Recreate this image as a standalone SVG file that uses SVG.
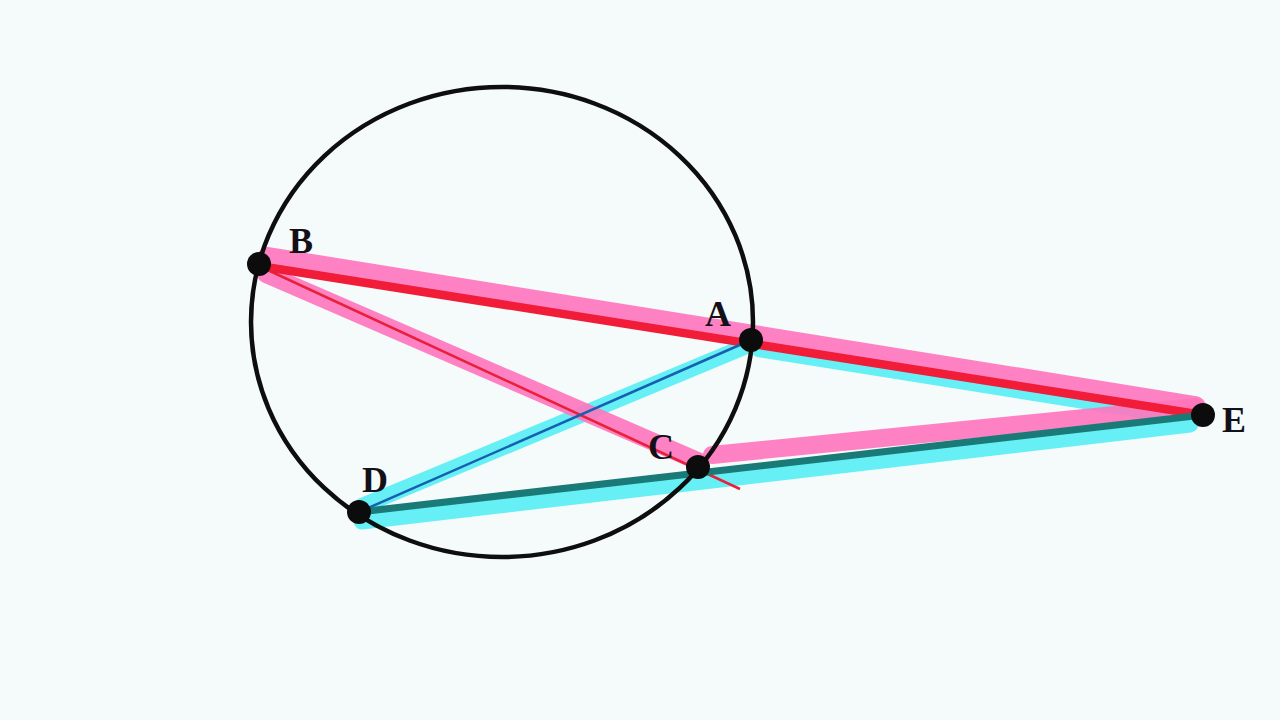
<svg xmlns="http://www.w3.org/2000/svg" width="1280" height="720" viewBox="0 0 1280 720">
<style>
.pink{stroke:#ff74bc;stroke-linecap:round;fill:none;opacity:0.9}
.cyan{stroke:#66eff5;stroke-linecap:round;fill:none}
.lbl{font-family:"Liberation Serif","DejaVu Serif",serif;font-weight:bold;font-size:36px;fill:#141018}
.dot{fill:#0c0c0c}
</style>
<rect width="1280" height="720" fill="#f4fbfa"/>
<g id="connectors">
<line class="cyan" x1="362" y1="506" x2="744" y2="347" stroke-width="16"/>
<line class="cyan" x1="758" y1="350" x2="1160" y2="414" stroke-width="14"/>
<line class="cyan" x1="362" y1="521" x2="1190" y2="424" stroke-width="17"/>
<line class="pink" x1="268" y1="258" x2="1195" y2="407" stroke-width="22"/>
<line class="pink" x1="266" y1="274" x2="700" y2="462" stroke-width="18"/>
<line class="pink" x1="712" y1="455" x2="1195" y2="407" stroke-width="18"/>
<line x1="259" y1="266" x2="1203" y2="415" stroke="#f01c38" stroke-width="8.5"/>
<line x1="259" y1="266" x2="740" y2="489" stroke="#e8203a" stroke-width="2.5"/>
<line x1="359" y1="512" x2="751" y2="340" stroke="#1560b0" stroke-width="2.5"/>
<line x1="359" y1="512" x2="1203" y2="415" stroke="#1a7a78" stroke-width="7"/>
</g>
<g id="circle">
<ellipse cx="502" cy="322" rx="251" ry="235" fill="none" stroke="#0e0e0e" stroke-width="4.5"/>
</g>
<g id="node-B"><circle class="dot" cx="259" cy="264" r="12"/><text class="lbl" x="289" y="253">B</text></g>
<g id="node-A"><circle class="dot" cx="751" cy="340" r="12"/><text class="lbl" x="705" y="326">A</text></g>
<g id="node-C"><circle class="dot" cx="698" cy="467" r="12"/><text class="lbl" x="648" y="459">C</text></g>
<g id="node-D"><circle class="dot" cx="359" cy="512" r="12"/><text class="lbl" x="362" y="492">D</text></g>
<g id="node-E"><circle class="dot" cx="1203" cy="415" r="12"/><text class="lbl" x="1222" y="432">E</text></g>
</svg>
